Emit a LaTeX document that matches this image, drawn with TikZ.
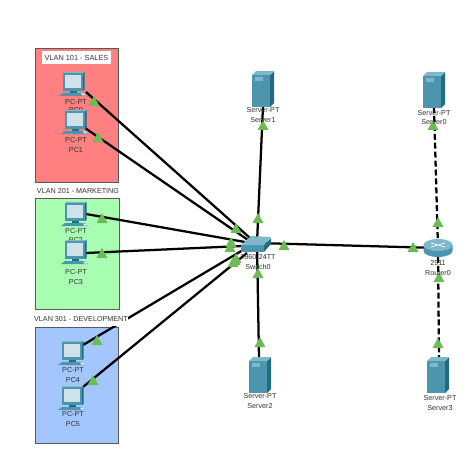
\documentclass[tikz,border=0pt]{standalone}
\usepackage{fontspec}
\setmainfont{Liberation Sans}
\usetikzlibrary{calc}

\definecolor{salesred}{HTML}{FF8080}
\definecolor{marketgreen}{HTML}{A8FFB2}
\definecolor{devblue}{HTML}{A3C6FF}
\definecolor{linkgreen}{HTML}{6DBB55}
\definecolor{tealmid}{HTML}{4B96AE}
\definecolor{tealdark}{HTML}{1F6E80}
\definecolor{teallight}{HTML}{7FB8CB}
\definecolor{screenblue}{HTML}{CFE2EA}

\tikzset{
  vlanbox/.style={draw=black!65, line width=0.7pt},
  vlantext/.style={fill=white, inner sep=0pt, minimum height=9.5pt, font=\fontsize{5.5}{7}\selectfont, text=black!80},
  devtext/.style={inner sep=0pt, font=\fontsize{5.4}{7}\selectfont, text=black!80},
  link/.style={line width=1.7pt, black},
  dashlink/.style={line width=1.7pt, black, dash pattern=on 4.5pt off 2.2pt},
  pc/.pic={
    \fill[tealmid] (-10,-10) rectangle (10,8);
    \fill[tealdark] (10,-10) -- (11.5,-11) -- (11.5,7) -- (10,8) -- cycle;
    \fill[teallight] (-10,-10) -- (-8.5,-11) -- (11.5,-11) -- (10,-10) -- cycle;
    \fill[screenblue] (-8,-8) rectangle (8,5);
    \fill[tealdark] (-3,8) rectangle (4,10);
    \fill[tealmid] (-10,10) -- (10,10) -- (13,13) -- (-14,13) -- cycle;
    \fill[screenblue!70!white] (8,10.5) -- (11,10.5) -- (12.5,12.5) -- (9,12.5) -- cycle;
  },
  serverbox/.pic={
    \fill[tealmid] (-11,-14) rectangle (7,18);
    \fill[tealdark] (7,-14) -- (11,-18) -- (11,14) -- (7,18) -- cycle;
    \fill[teallight] (-11,-14) -- (-7,-18) -- (11,-18) -- (7,-14) -- cycle;
    \fill[teallight] (-8,-12) rectangle (0,-8);
  },
  switchbox/.pic={
    \fill[tealmid] (-15,2) rectangle (8,9);
    \fill[tealdark] (8,2) -- (15,-5) -- (15,1) -- (8,9) -- cycle;
    \fill[teallight] (-15,2) -- (-5,-7) -- (15,-6) -- (8,2) -- cycle;
  },
  routerbox/.pic={
    \fill[tealmid] (-14.5,-3) -- (-14.5,3) arc (180:0:14.5 and 6) -- (14.5,-3) -- cycle;
    \fill[teallight] (0,-3) ellipse (14.5 and 6);
    \draw[white, line width=0.5pt] (-7,-5) -- (7,-1) (-7,-1) -- (7,-5);
  }
}

\begin{document}
\begin{tikzpicture}[x=0.75pt,y=-0.75pt]
  \useasboundingbox (0,0) rectangle (474,463);

  \coordinate (PC0) at (86, 92);
  \coordinate (PC1) at (85, 128);
  \coordinate (PC2) at (86, 214);
  \coordinate (PC3) at (86, 253);
  \coordinate (PC4) at (83, 345);
  \coordinate (PC5) at (83, 387);
  \coordinate (SwA) at (250, 238);
  \coordinate (SwB) at (248, 240);
  \coordinate (SwC) at (245, 242);
  \coordinate (SwD) at (242, 246);
  \coordinate (SwE) at (243, 250);
  \coordinate (SwF) at (247, 253);
  \coordinate (Switch0) at (257, 243);
  \coordinate (Router0) at (438, 248);
  \coordinate (Server0) at (434, 107);
  \coordinate (Server1) at (263, 106);
  \coordinate (Server2) at (259, 358);
  \coordinate (Server3) at (439, 358);

  % vlan areas
  \filldraw[vlanbox, fill=salesred] (35, 48) rectangle (118, 182);
  \filldraw[vlanbox, fill=marketgreen] (35, 198) rectangle (119, 309);
  \filldraw[vlanbox, fill=devblue] (35, 327) rectangle (118, 443);

  % links
  \draw[link] (PC0) -- (SwA);
  \draw[link] (PC1) -- (SwB);
  \draw[link] (PC2) -- (SwC);
  \draw[link] (PC3) -- (SwD);
  \draw[link] (PC4) -- (SwE);
  \draw[link] (PC5) -- (SwF);
  \draw[link] (Server1) -- (Switch0);
  \draw[link] (Server2) -- (Switch0);
  \draw[link] (Switch0) -- (Router0);
  \draw[dashlink] (Server0) -- (Router0);
  \draw[dashlink] (Router0) -- (Server3);

  % vlan titles
  \node[vlantext, minimum width=52pt] (VlanA) at (76.5, 57.5) {VLAN 101 - SALES};
  \fill[white] (35, 183) rectangle (119, 197.5);
  \node[devtext] (VlanB) at (78, 191) {VLAN 201 - MARKETING};
  \fill[white] (35, 313) rectangle (128, 326);
  \node[devtext] (VlanC) at (81, 319.5) {VLAN 301 - DEVELOPMENT};

  % link state marks
  \foreach \x/\y in {94/101, 98/137, 102/218, 102/253, 97/340, 93/380,
                     236/228, 231/242, 230/247, 235/260, 233/262, 236/258,
                     258/218, 258/273, 284/245, 413/247, 263/125,
                     438/222, 439/277, 433/125, 438/343, 260/342}
    \fill[linkgreen] (\x-5.5, \y+5) -- (\x+5.5, \y+5) -- (\x, \y-5) -- cycle;

  % labels
  \node[devtext] (PC0t) at (76, 102) {PC-PT};
  \node[devtext] (PC0n) at (76, 110.5) {PC0};
  \node[devtext] (PC1t) at (76, 140) {PC-PT};
  \node[devtext] (PC1n) at (76, 150) {PC1};
  \node[devtext] (PC2t) at (76, 231) {PC-PT};
  \node[devtext] (PC2n) at (76, 240) {PC2};
  \node[devtext] (PC3t) at (76, 272) {PC-PT};
  \node[devtext] (PC3n) at (76, 282) {PC3};
  \node[devtext] (PC4t) at (73, 370) {PC-PT};
  \node[devtext] (PC4n) at (73, 380) {PC4};
  \node[devtext] (PC5t) at (73, 414) {PC-PT};
  \node[devtext] (PC5n) at (73, 424) {PC5};
  \node[devtext] (Server0t) at (434, 113) {Server-PT};
  \node[devtext] (Server0n) at (434, 122) {Server0};
  \node[devtext] (Server1t) at (263, 110) {Server-PT};
  \node[devtext] (Server1n) at (263, 120) {Server1};
  \node[devtext] (Server2t) at (260, 396) {Server-PT};
  \node[devtext] (Server2n) at (260, 406) {Server2};
  \node[devtext] (Server3t) at (440, 398) {Server-PT};
  \node[devtext] (Server3n) at (440, 408) {Server3};
  \node[devtext] (Switch0t) at (258, 257) {2960-24TT};
  \node[devtext] (Switch0n) at (258, 267) {Switch0};
  \node[devtext] (Router0t) at (438, 263) {2911};
  \node[devtext] (Router0n) at (438, 273) {Router0};

  % devices
  \pic at (73, 83) {pc};
  \pic at (75, 121) {pc};
  \pic at (75, 213) {pc};
  \pic at (75, 251) {pc};
  \pic at (72, 352) {pc};
  \pic at (72, 397) {pc};
  \pic at (434, 90) {serverbox};
  \pic at (263, 89) {serverbox};
  \pic at (260, 375) {serverbox};
  \pic at (438, 375) {serverbox};
  \pic at (256, 243) {switchbox};
  \pic at (438, 248) {routerbox};
\end{tikzpicture}
\end{document}
